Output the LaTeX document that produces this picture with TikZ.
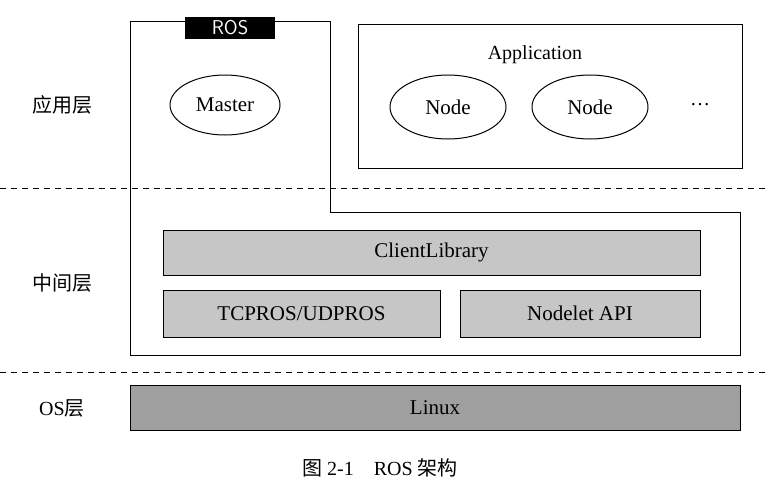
\documentclass[tikz,border=0pt]{standalone}
\usepackage{fontspec}
\setmainfont{Liberation Serif}
\newfontfamily\cjk{Noto Sans CJK SC}
\usetikzlibrary{shapes.geometric}
\begin{document}
\begin{tikzpicture}[x=1pt,y=-1pt,
  lbl/.style={font=\fontsize{20}{24}\selectfont},
  ell/.style={draw,ellipse,line width=1pt,minimum width=110pt,minimum height=60pt,font=\fontsize{21}{24}\selectfont},
  graybox/.style={draw,line width=0.8pt,fill=gray!45,font=\fontsize{21}{24}\selectfont,inner sep=0pt},
  dashln/.style={dashed,line width=1pt,dash pattern=on 6pt off 5pt}]
\useasboundingbox (0,0) rectangle (765,495);
\fill[white] (0,0) rectangle (765,495);
\draw[line width=1pt] (130,22) -- (330,22) -- (330,212) -- (740,212) -- (740,355) -- (130,355) -- cycle;
\node[fill=black,text=white,minimum width=90pt,minimum height=22pt,inner sep=0pt,font=\sffamily\fontsize{20}{22}\selectfont] (ros) at (230,28) {ROS};
\draw[line width=1pt] (358,25) rectangle (742,168);
\node[lbl] (app) at (535,55) {Application};
\node[ell] (master) at (225,105) {Master};
\node[ell,minimum width=116pt,minimum height=64pt] (n1) at (448,107) {Node};
\node[ell,minimum width=116pt,minimum height=64pt] (n2) at (590,107) {Node};
\node[lbl] (dots) at (700,105) {\dots};
\coordinate (d1a) at (0,188); \coordinate (d1b) at (765,188);
\coordinate (d2a) at (0,372); \coordinate (d2b) at (765,372);
\draw[dashln] (d1a) -- (d1b);
\draw[dashln] (d2a) -- (d2b);
\node[graybox,minimum width=537pt,minimum height=45pt] (cl) at (431.5,252.5) {ClientLibrary};
\node[graybox,minimum width=277pt,minimum height=47pt] (tcp) at (301.5,313.5) {TCPROS/UDPROS};
\node[graybox,minimum width=240pt,minimum height=47pt] (nl) at (580,313.5) {Nodelet API};
\node[graybox,fill=gray!75,minimum width=610pt,minimum height=45pt] (linux) at (435,407.5) {Linux};
\node[lbl] (l1) at (62,105) {\cjk 应用层};
\node[lbl] (l2) at (62,283) {\cjk 中间层};
\node[lbl] (l3) at (62,408) {OS\cjk 层};
\node[lbl] (cap) at (380,468) {{\cjk 图} 2-1\quad ROS {\cjk 架构}};
\end{tikzpicture}
\end{document}
